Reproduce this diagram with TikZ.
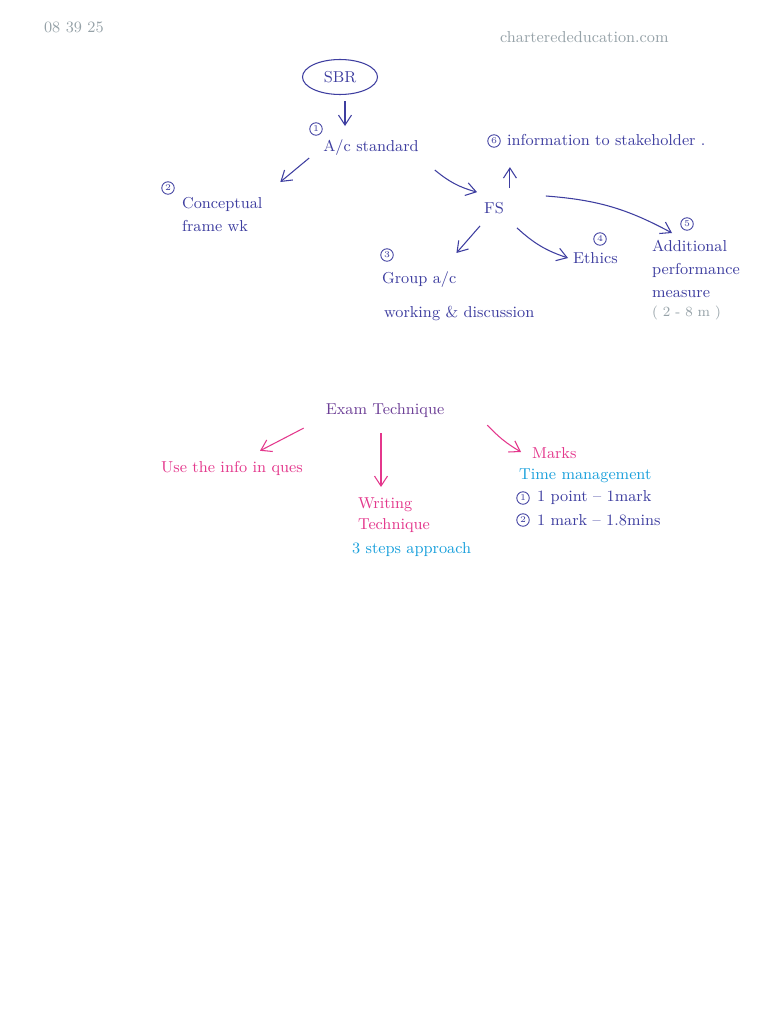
\documentclass[tikz,border=0pt]{standalone}
\usepackage{tikz}
\usetikzlibrary{arrows.meta, positioning, calc, shapes.geometric}
\definecolor{ink}{RGB}{62, 62, 160}
\definecolor{inkpurple}{RGB}{108, 62, 150}
\definecolor{inkpink}{RGB}{228, 55, 140}
\definecolor{inkcyan}{RGB}{25, 160, 220}
\definecolor{pencil}{RGB}{150, 162, 168}

\begin{document}
\begin{tikzpicture}[
    x=0.02cm, y=-0.02cm,
    lab/.style={font=\small, color=ink, inner sep=1pt},
    numc/.style={circle, draw=ink, text=ink,
                 font=\fontsize{5}{5}\selectfont,
                 minimum size=0.25cm, inner sep=0pt,
                 line width=0.5pt},
    pen/.style={-{Straight Barb[length=2mm, width=2.6mm]},
                line width=0.6pt, color=ink},
    pinkpen/.style={pen, color=inkpink},
]
\useasboundingbox[fill=white] (0,0) rectangle (768,1024);

% -- Page header ------------------------------
\node[lab, color=pencil, anchor=west]
    (date) at (42,27) {08 39 25};
\node[lab, color=pencil, anchor=west]
    (site) at (498,37) {charterededucation.com};

% -- SBR map ----------------------------------
\node[ellipse, draw=ink, line width=0.6pt, text=ink,
      minimum width=1.5cm, minimum height=0.7cm,
      font=\small] (sbr) at (340,77) {SBR};
\node[lab] (acstd) at (371,148) {A/c standard};
\node[numc] (n1) at (316,129) {1};

\node[lab, anchor=north west, align=left]
    (concept) at (180,195) {Conceptual\\[2pt]frame wk};
\node[numc] (n2) at (168,188) {2};

\node[lab] (fs) at (494,208) {FS};

\node[lab, anchor=west]
    (info) at (505,140) {information to stakeholder .};
\node[numc] (n6) at (494,141) {6};

\node[lab, anchor=west] (grp) at (380,280) {Group a/c};
\node[lab, anchor=west]
    (wrk) at (382,313) {working \& discussion};
\node[numc] (n3) at (387,255) {3};

\node[lab, anchor=west] (ethics) at (571,258) {Ethics};
\node[numc] (n4) at (600,239) {4};

\node[lab, anchor=north west, align=left]
    (addl) at (650,238)
    {Additional\\[2pt]performance\\[2pt]measure\\
     {\footnotesize\color{pencil}( 2 - 8 m )}};
\node[numc] (n5) at (687,224) {5};

% -- SBR arrows -------------------------------
\draw[pen] ($(sbr.south)+(5,6)$)
    -- ($(sbr.south)+(5,31)$);
\draw[pen] ($(acstd.west)+(-12,10)$)
    -- ($(concept.north)+(58,-13)$);
\draw[pen] ($(acstd.south east)+(14,12)$)
    to[bend right=12] ($(fs.north west)+(-5,-8)$);
\draw[pen] ($(fs.north east)+(4,-12)$)
    -- ($(fs.north east)+(4,-33)$);
\draw[pen] ($(fs.south west)+(-2,10)$)
    -- ($(grp.north east)+(-2,-17)$);
\draw[pen] ($(fs.south east)+(11,12)$)
    to[bend right=12] ($(ethics.west)+(-3,0)$);
\draw[pen] ($(fs.east)+(40,-12)$)
    to[bend left=12] ($(addl.north west)+(22,-5)$);

% -- Exam technique ---------------------------
\node[lab, color=inkpurple] (exam) at (385,411) {Exam Technique};

\node[lab, color=inkpink] (use) at (232,468) {Use the info in ques};

\node[lab, color=inkpink, anchor=north west, align=left]
    (wrt) at (356,496) {Writing\\[1pt]Technique};
\node[lab, color=inkcyan, anchor=west]
    (steps) at (350,550) {3 steps approach};

\node[lab, color=inkpink, anchor=west] (marks) at (530,453) {Marks};
\node[lab, color=inkcyan, anchor=west]
    (timem) at (517,476) {Time management};
\node[lab, anchor=west] (pt1) at (535,498) {1 point -- 1mark};
\node[numc] (m1) at (523,498) {1};
\node[lab, anchor=west] (pt2) at (535,520) {1 mark -- 1.8mins};
\node[numc] (m2) at (523,520) {2};

% -- Exam arrows ------------------------------
\draw[pinkpen] ($(exam.south west)+(-20,8)$)
    -- ($(use.north)+(28,-8)$);
\draw[pinkpen] ($(exam.south)+(-4,13)$)
    -- ($(wrt.north west)+(25,-9)$);
\draw[pinkpen] ($(exam.south east)+(41,5)$)
    to[bend right=8] ($(marks.west)+(-9,-1)$);

\end{tikzpicture}
\end{document}
